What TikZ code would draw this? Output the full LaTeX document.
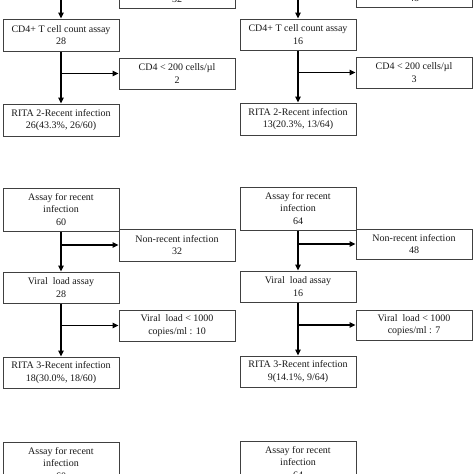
\documentclass[tikz,border=0pt]{standalone}
\usepackage{fontspec}
\setmainfont{Liberation Serif}
\usetikzlibrary{arrows.meta}
\begin{document}
\begin{tikzpicture}[x=1pt,y=-1pt,
  box/.style={draw=black!75,line width=1pt,fill=white,text=black!90,inner sep=0pt,
    minimum width=116pt,align=center,font=\fontsize{10}{12.5}\selectfont},
  arr/.style={line width=1.8pt,black,-{Triangle[length=6pt,width=5.5pt]}}]
\useasboundingbox (0,0) rectangle (474,474);
\clip (0,0) rectangle (474,474);
\fill[white] (0,0) rectangle (474,474);
% ---------- left column ----------
\node[box,minimum height=31pt] (topL) at (177,-7.5) {Non-recent infection\\32};
\coordinate (inL) at (61,-10);
\node[box,minimum height=32pt] (cd4L) at (61,35) {CD4+ T cell count assay\\28};
\node[box,minimum height=31pt] (lowL) at (177,73.5) {CD4 {\textless} 200 cells/µl\\2};
\node[box,minimum height=32pt] (rita2L) at (61,120) {RITA 2-Recent infection\\26(43.3\%, 26/60)};
\node[box,minimum height=43pt] (assayL) at (61,209.5) {Assay for recent\\infection\\60};
\node[box,minimum height=32pt] (nonL) at (177,245) {Non-recent infection\\32};
\node[box,minimum height=31pt] (vlL) at (61,287.5) {Viral\ \ load assay\\28};
\node[box,minimum height=31pt] (vlowL) at (177,325.5) {Viral\ \ load {\textless} 1000\\copies/ml : 10};
\node[box,minimum height=31pt] (rita3L) at (61,372.5) {RITA 3-Recent infection\\18(30.0\%, 18/60)};
\node[box,minimum height=43pt] (assay2L) at (61,463.5) {Assay for recent\\infection\\60};
% ---------- right column ----------
\node[box,minimum height=31pt] (topR) at (414,-8.5) {Non-recent infection\\48};
\coordinate (inR) at (298,-10);
\node[box,minimum height=31pt] (cd4R) at (298,34.5) {CD4+ T cell count assay\\16};
\node[box,minimum height=31pt] (lowR) at (414,72.5) {CD4 {\textless} 200 cells/µl\\3};
\node[box,minimum height=32pt] (rita2R) at (298,119) {RITA 2-Recent infection\\13(20.3\%, 13/64)};
\node[box,minimum height=43pt] (assayR) at (298,208.5) {Assay for recent\\infection\\64};
\node[box,minimum height=30pt] (nonR) at (414,244) {Non-recent infection\\48};
\node[box,minimum height=31pt] (vlR) at (298,286.5) {Viral\ \ load assay\\16};
\node[box,minimum height=30pt] (vlowR) at (414,325) {Viral\ \ load {\textless} 1000\\copies/ml : 7};
\node[box,minimum height=31pt] (rita3R) at (298,371.5) {RITA 3-Recent infection\\9(14.1\%, 9/64)};
\node[box,minimum height=43pt] (assay2R) at (298,462.5) {Assay for recent\\infection\\64};
% ---------- connectors ----------
\foreach \s in {L,R}{
  \draw[arr] (in\s) -- (cd4\s.north);
  \draw[arr] (cd4\s.south) -- (rita2\s.north);
  \draw[arr] (cd4\s.south |- low\s.west) -- (low\s.west);
  \draw[arr] (assay\s.south) -- (vl\s.north);
  \draw[arr] (assay\s.south |- non\s.west) -- (non\s.west);
  \draw[arr] (vl\s.south) -- (rita3\s.north);
  \draw[arr] (vl\s.south |- vlow\s.west) -- (vlow\s.west);
}
\end{tikzpicture}
\end{document}
